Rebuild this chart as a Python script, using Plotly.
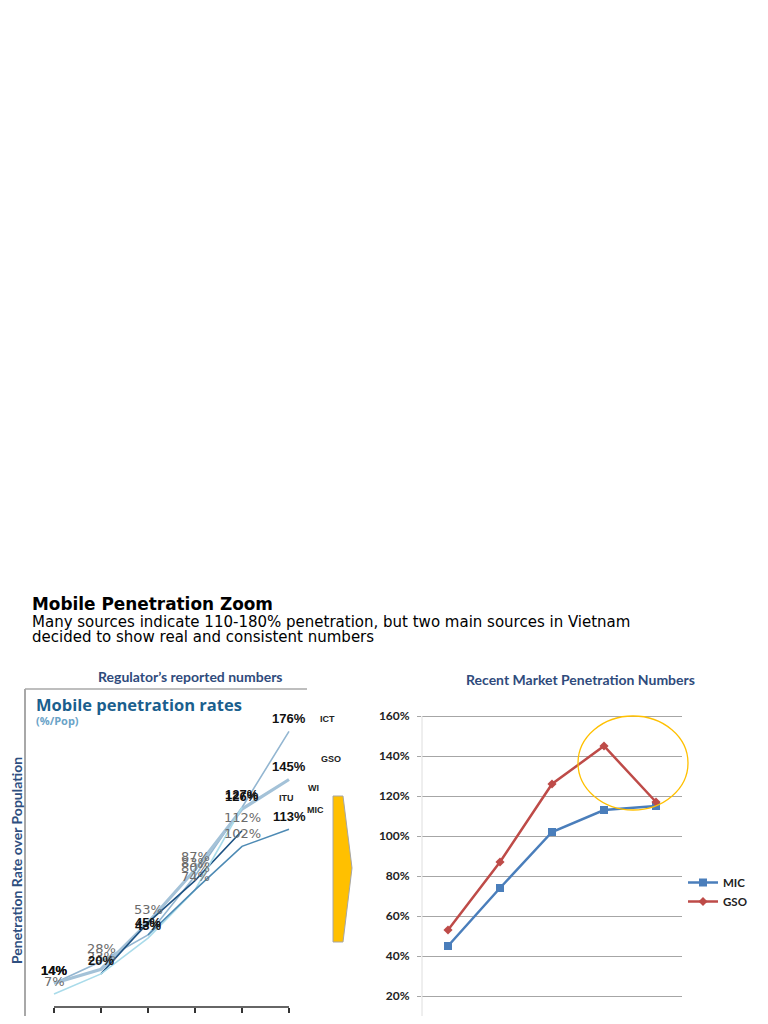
import plotly.graph_objects as go

# The page adds an 8px body margin, so the figure is 752x1008 and
# page coordinates are converted to figure coordinates below.
W, H = 752, 1008
OFF = 8


def px(x):
    return (x - OFF) / W


def py(y):
    return 1 - (y - OFF) / H


# ---------------- Data: regulator chart (left) ----------------
years = [2005, 2006, 2007, 2008, 2009, 2010]
ict = [14, 28, 45, 83, 127, 176]
gso_reg = [14, 23, 53, 87, 126, 145]
wi = [None, 20, 53, 80, 112, None]
itu = [7, 20, 43, 74, 127, None]
mic_reg = [None, None, 45, 74, 102, 113]

lab_year = [2005, 2005, 2005, 2006, 2006, 2006, 2007, 2007, 2007,
            2008, 2008, 2008, 2008, 2009, 2009, 2009, 2009, 2010, 2010, 2010]
lab_value = [14, 14, 7, 28, 23, 20, 53, 45, 43,
             87, 83, 80, 74, 127, 126, 112, 102, 176, 145, 113]
lab_bold = [1, 1, 0, 0, 0, 1, 0, 1, 1,
            0, 0, 0, 0, 1, 1, 0, 0, 1, 1, 1]

series_names = ["ICT", "GSO", "WI", "ITU", "MIC"]

# ---------------- Data: recent market chart (right) ----------------
periods = ["2007", "2008", "2009", "2010", "2011"]
mic = [45, 74, 102, 113, 115]
gso = [53, 87, 126, 145, 117]
y_ticks = [20, 40, 60, 80, 100, 120, 140, 160]

fig = go.Figure()

left_series = [
    ("ICT", ict, "#93b6d1", 1.6),
    ("GSO", gso_reg, "#a4c2d8", 3.2),
    ("WI", wi, "#1d5283", 1.6),
    ("ITU", itu, "#a9dbea", 1.6),
    ("MIC", mic_reg, "#4d8ab4", 1.6),
]
for name, vals, col, w in left_series:
    fig.add_trace(go.Scatter(x=years, y=vals, mode="lines", name=name,
                             line=dict(color=col, width=w),
                             showlegend=False, xaxis="x", yaxis="y",
                             hoverinfo="skip"))

# right chart
fig.add_trace(go.Scatter(x=periods, y=mic, mode="lines+markers", name="MIC",
                         line=dict(color="#4a7ebb", width=2.5),
                         marker=dict(symbol="square", size=8, color="#4a7ebb"),
                         xaxis="x2", yaxis="y2"))
fig.add_trace(go.Scatter(x=periods, y=gso, mode="lines+markers", name="GSO",
                         line=dict(color="#be4b48", width=2.5),
                         marker=dict(symbol="diamond", size=7, color="#be4b48"),
                         xaxis="x2", yaxis="y2"))

annotations = []
# data labels left chart
for yr, v, b in zip(lab_year, lab_value, lab_bold):
    annotations.append(dict(
        x=yr, y=v, xref="x", yref="y", text=f"{v}%", showarrow=False,
        yshift=13, xanchor="center", yanchor="middle",
        font=dict(family="Liberation Sans" if b else "DejaVu Sans",
                  size=13, color="#111111" if b else "#6b6b6b",
                  weight="bold" if b else "normal")))

# series name labels
name_pos = {"ICT": (327, 719), "GSO": (331, 759), "WI": (313, 788),
            "ITU": (286, 798), "MIC": (315, 810)}
for n in series_names:
    x0, y0 = name_pos[n]
    annotations.append(dict(x=px(x0), y=py(y0), xref="paper", yref="paper",
                            text=n, showarrow=False,
                            xanchor="center", yanchor="middle",
                            font=dict(family="Liberation Sans", size=9,
                                      color="#222222", weight="bold")))


def txt(x, y, text, font, xanchor="center", **kw):
    return dict(x=px(x), y=py(y), xref="paper", yref="paper", text=text,
                showarrow=False, xanchor=xanchor, yanchor="middle",
                borderpad=0, font=font, **kw)


annotations += [
    txt(31, 604, "<b>Mobile Penetration Zoom</b>",
        dict(family="DejaVu Sans", size=16.9, color="#000000"), xanchor="left"),
    txt(31, 621.5,
        "Many sources indicate 110-180% penetration, but two main sources in Vietnam",
        dict(family="DejaVu Sans", size=15, color="#000000"), xanchor="left"),
    txt(31, 637, "decided to show real and consistent numbers",
        dict(family="DejaVu Sans", size=15, color="#000000"), xanchor="left"),
    txt(190, 676, "Regulator’s reported numbers",
        dict(family="Lato", size=14, color="#2f4b7c", weight="bold")),
    txt(580, 679, "Recent Market Penetration Numbers",
        dict(family="Lato", size=14, color="#2f4b7c", weight="bold")),
    txt(35, 704, "Mobile penetration rates",
        dict(family="Open Sans", size=16.5, color="#1b5f8e", weight="bold"),
        xanchor="left"),
    txt(35, 720, "(%/Pop)",
        dict(family="Open Sans", size=11, color="#6aa3c8", weight="bold"),
        xanchor="left"),
    txt(16, 861, "Penetration Rate over Population",
        dict(family="Lato", size=14, color="#2f4f7f", weight="bold"),
        textangle=-90),
]

shapes = [
    # frame of embedded picture
    dict(type="line", xref="paper", yref="paper", x0=px(25), x1=px(25),
         y0=py(689), y1=0, line=dict(color="#a8a8a8", width=2)),
    dict(type="line", xref="paper", yref="paper", x0=px(25), x1=px(307),
         y0=py(689), y1=py(689), line=dict(color="#a8a8a8", width=1.5)),
    # left x axis line
    dict(type="line", xref="x", yref="paper", x0=2005, x1=2010,
         y0=py(1007), y1=py(1007), line=dict(color="#333333", width=1.5)),
    # orange arrow
    dict(type="path", xref="paper", yref="paper",
         path=(f"M {px(333)},{py(796)} L {px(343)},{py(796)} L {px(352)},{py(868)} "
               f"L {px(343)},{py(942)} L {px(333)},{py(942)} Z"),
         fillcolor="#ffc000", line=dict(color="#a6a6a6", width=1)),
    # right chart vertical axis line
    dict(type="line", xref="paper", yref="y2", x0=px(422), x1=px(422),
         y0=10, y1=160, line=dict(color="#dedede", width=1)),
    # yellow ellipse
    dict(type="circle", xref="paper", yref="paper",
         x0=px(578), x1=px(688), y0=py(716), y1=py(810),
         line=dict(color="#ffc000", width=1.3)),
]

# left chart: 2005 -> x=54, 2010 -> x=289 (47 px/yr); 0% at y=1005, 1.55 px/%
# (year tick labels fall below the visible page, only the tick marks show)
fig.update_layout(
    width=W, height=H, margin=dict(l=0, r=0, t=0, b=0),
    paper_bgcolor="white", plot_bgcolor="rgba(0,0,0,0)",
    annotations=annotations, shapes=shapes,
    xaxis=dict(domain=[px(25), px(307)], range=[2004.383, 2010.383],
               tickvals=years, ticktext=[str(y) for y in years],
               ticks="outside", ticklen=5, tickwidth=1.5, tickcolor="#333333",
               showticklabels=False,
               showline=False, showgrid=False, zeroline=False),
    yaxis=dict(domain=[py(1007), py(689)], range=[-1.3, 203.2],
               visible=False),
    xaxis2=dict(domain=[px(422), px(682)], range=[-0.5, 4.5], anchor="y2",
                showgrid=False, zeroline=False, showline=False,
                showticklabels=False, ticks=""),
    yaxis2=dict(domain=[0, py(706)], range=[10, 165], anchor="x2",
                tickvals=y_ticks,
                ticktext=[f"{v}%" for v in y_ticks],
                showgrid=True, gridcolor="#a6a6a6", gridwidth=1,
                zeroline=False, showline=False,
                ticks="outside", ticklen=4, tickcolor="#a6a6a6", tickwidth=1,
                ticklabelstandoff=5,
                tickfont=dict(family="Lato", size=12, color="#222222",
                              weight="bold")),
    legend=dict(x=px(683), y=py(868), xanchor="left", yanchor="top",
                bgcolor="rgba(0,0,0,0)", borderwidth=0,
                font=dict(family="Lato", size=11.5, color="#222222",
                          weight="bold"),
                itemwidth=30, tracegroupgap=0),
    showlegend=True,
)

fig.write_html("out.html", config={"displayModeBar": False})
